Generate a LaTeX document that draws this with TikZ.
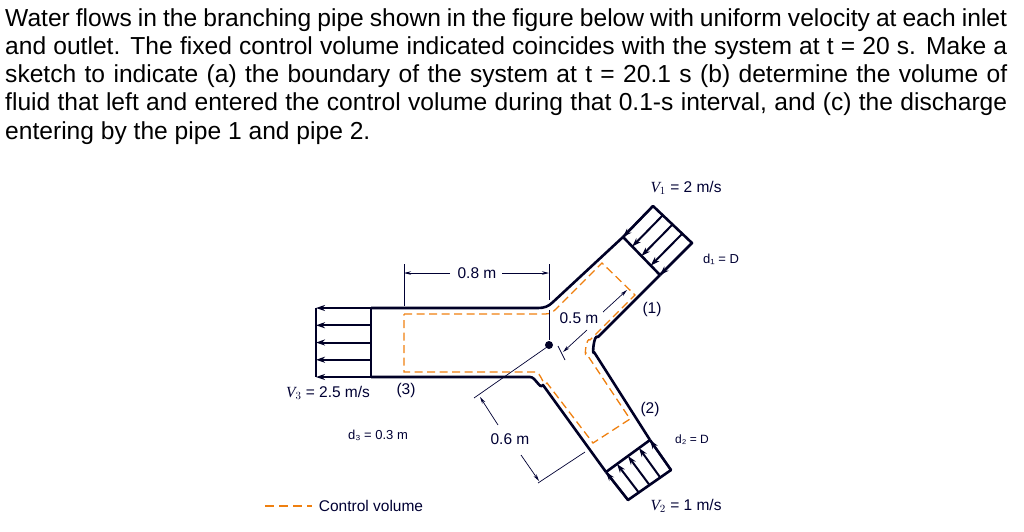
\documentclass[tikz,border=0pt]{standalone}
\usepackage{fontspec}
\setmainfont{Liberation Sans}
\newfontfamily\serifit{Liberation Serif}
\usetikzlibrary{arrows.meta,calc}
\begin{document}
\begin{tikzpicture}[x=1pt,y=-1pt,
  wall/.style={line width=2.6pt,color=black!85!blue,line join=round},
  cv/.style={dashed,dash pattern=on 8pt off 4.5pt,color=orange!75!brown,line width=1.3pt},
  thin/.style={line width=0.7pt,color=black!80!blue},
  flow/.style={line width=2pt,color=black!85!blue,-{Stealth[length=9pt,width=6pt]}},
  lbl/.style={font=\fontsize{15.5}{18}\selectfont,color=black!80!blue,inner sep=1pt}]
\useasboundingbox (0,0) rectangle (1024,531);
\node[anchor=north west,text width=1002pt,align=justify,inner sep=0pt,font=\fontsize{24.6}{28.3}\selectfont] (title) at (5,8)
{Water flows in the branching pipe shown in the figure below with uniform velocity at each inlet\linebreak and outlet. The fixed control volume indicated coincides with the system at t = 20 s. Make a\linebreak sketch to indicate (a) the boundary of the system at t = 20.1 s (b) determine the volume of\linebreak fluid that left and entered the control volume during that 0.1-s interval, and (c) the discharge\linebreak entering by the pipe 1 and pipe 2.};
% pipe walls
\draw[wall] (371,308) -- (538,308) to[out=0,in=-135] (553,302) -- (623,237);
\draw[wall] (660,275) -- (598,337) to[out=135,in=-110] (594,352) -- (650,440);
\draw[wall] (606,472) -- (543,385) to[out=-125,in=0] (530,377) -- (371,377);
% end caps
\draw[wall] (371,308) -- (371,377);
\draw[wall] (623,237) -- (660,275);
\draw[wall] (650,440) -- (606,472);
% outlet 3 profile
\draw[wall] (316,308) -- (316,377);
\foreach \y in {308,325.25,342.5,359.75,377} \draw[flow] (371,\y) -- (316,\y);
% inlet 1 profile
\draw[wall] (623,237) -- (653,206) -- (692,243) -- (660,275);
\foreach \t in {0,0.25,0.5,0.75,1}
  \draw[flow] ($(653,206)!\t!(692,243)$) -- ($(623,237)!\t!(660,275)$);
% inlet 2 profile
\draw[wall] (650,440) -- (671,470) -- (628,500) -- (606,472);
\foreach \t in {0,0.25,0.5,0.75,1}
  \draw[flow] ($(628,500)!\t!(671,470)$) -- ($(606,472)!\t!(650,440)$);
% control volume
\draw[cv] (404,314) -- (545,314) to[out=0,in=-135] (556,309) -- (602,263) -- (635,295)
  -- (590,340) to[out=135,in=-110] (586,353) -- (630,419) -- (593,443) -- (547,383)
  to[out=-125,in=0] (535,372) -- (404,372) -- cycle;
% dot
\fill[black!85!blue] (549,345) circle (4pt);
% dimension 0.8
\draw[thin] (404,264) -- (404,306);
\draw[thin] (549,264) -- (549,300);
\draw[thin] (549,310) -- (549,340);
\draw[thin,-{Stealth[length=7pt,width=3.5pt]}] (450,273) -- (404,273);
\draw[thin,-{Stealth[length=7pt,width=3.5pt]}] (502,273) -- (549,273);
\node[lbl] (d08) at (477,273) {0.8 m};
% dimension 0.5
\draw[thin,-{Stealth[length=7pt,width=3.5pt]}] (603,312) -- (627,290);
\draw[thin,-{Stealth[length=7pt,width=3.5pt]}] (587,330) -- (563,352);
\draw[thin] (558,346) -- (565,360);
\node[lbl] (d05) at (579,318) {0.5 m};
% dimension 0.6
\draw[thin] (547,347) -- (474,398);
\draw[thin] (585,452) -- (538,483);
\draw[thin,-{Stealth[length=7pt,width=3.5pt]}] (498,425) -- (480,397);
\draw[thin,-{Stealth[length=7pt,width=3.5pt]}] (521,455) -- (539,481);
\node[lbl] (d06) at (510,439) {0.6 m};
% labels
\node[lbl] (l1) at (652,309) {(1)};
\node[lbl] (l2) at (650,409) {(2)};
\node[lbl] (l3) at (406,390) {(3)};
\node[lbl] (v1) at (686,188) {{\serifit\itshape V}$_1$ = 2 m/s};
\node[lbl] (v2) at (686,506) {{\serifit\itshape V}$_2$ = 1 m/s};
\node[lbl] (v3) at (328,393) {{\serifit\itshape V}$_3$ = 2.5 m/s};
\node[lbl,font=\fontsize{13}{15}\selectfont] (dd1) at (721,259) {d₁ = D};
\node[lbl,font=\fontsize{12}{14}\selectfont] (dd2) at (692,440) {d₂ = D};
\node[lbl,font=\fontsize{13}{15}\selectfont] (dd3) at (378,435) {d₃ = 0.3 m};
\draw[cv,dash pattern=on 9pt off 5pt] (265,506) -- (312,506);
\node[lbl] (cvl) at (371,506) {Control volume};
\end{tikzpicture}
\end{document}
